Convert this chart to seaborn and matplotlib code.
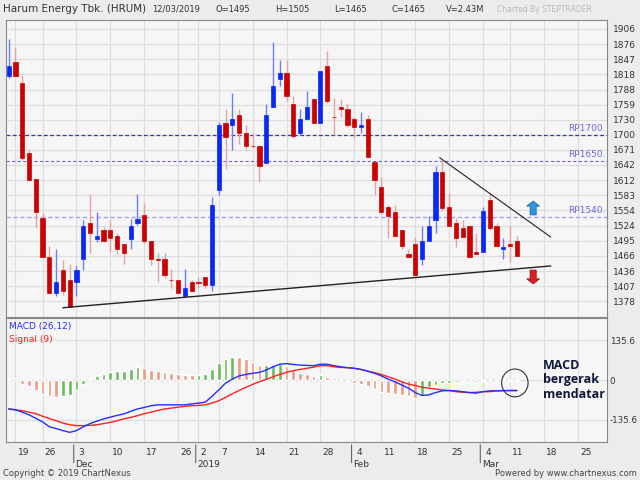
import numpy as np
import matplotlib
matplotlib.use('Agg')
import matplotlib.pyplot as plt
import matplotlib.patches as mpatches
import pandas as pd
import seaborn as sns

# OHLC, one row per trading day
opens = [1815, 1841, 1801, 1665, 1614, 1539, 1463, 1394, 1438, 1419, 1414, 1459, 1529, 1499, 1515, 1515,
         1504, 1489, 1499, 1529, 1545, 1495, 1459, 1459, 1419, 1419, 1388, 1414, 1414, 1424, 1409, 1594,
         1724, 1720, 1739, 1703, 1679, 1679, 1645, 1755, 1808, 1821, 1760, 1703, 1731, 1769, 1724, 1834,
         1735, 1755, 1750, 1731, 1715, 1731, 1648, 1600, 1560, 1550, 1515, 1469, 1489, 1459, 1495, 1535,
         1629, 1560, 1529, 1519, 1524, 1474, 1474, 1574, 1524, 1478, 1489, 1495]
highs = [1886, 1870, 1817, 1670, 1614, 1548, 1484, 1478, 1458, 1450, 1445, 1535, 1586, 1550, 1522, 1535,
         1509, 1489, 1538, 1586, 1569, 1495, 1471, 1471, 1440, 1419, 1440, 1419, 1424, 1424, 1580, 1726,
         1750, 1781, 1750, 1720, 1703, 1679, 1760, 1881, 1846, 1846, 1776, 1750, 1786, 1769, 1825, 1862,
         1771, 1769, 1760, 1735, 1745, 1739, 1648, 1619, 1564, 1564, 1515, 1478, 1503, 1524, 1543, 1639,
         1652, 1588, 1539, 1535, 1524, 1509, 1560, 1587, 1529, 1500, 1524, 1505]
lows = [1810, 1815, 1652, 1610, 1519, 1464, 1394, 1388, 1390, 1366, 1388, 1438, 1471, 1493, 1493, 1474,
        1470, 1450, 1478, 1526, 1489, 1448, 1414, 1422, 1403, 1394, 1388, 1398, 1403, 1403, 1398, 1584,
        1634, 1670, 1683, 1671, 1674, 1608, 1645, 1755, 1795, 1765, 1694, 1700, 1731, 1724, 1724, 1763,
        1700, 1734, 1715, 1694, 1703, 1655, 1584, 1547, 1500, 1504, 1478, 1463, 1424, 1448, 1500, 1509,
        1553, 1524, 1483, 1503, 1464, 1469, 1474, 1515, 1483, 1459, 1454, 1465]
closes = [1834, 1815, 1655, 1613, 1550, 1464, 1394, 1414, 1398, 1366, 1438, 1524, 1509, 1504, 1495, 1500,
          1478, 1471, 1524, 1538, 1495, 1459, 1458, 1428, 1418, 1394, 1403, 1398, 1413, 1409, 1564, 1720,
          1696, 1731, 1703, 1679, 1678, 1639, 1739, 1795, 1821, 1775, 1698, 1731, 1755, 1724, 1825, 1765,
          1734, 1750, 1720, 1715, 1720, 1657, 1613, 1550, 1543, 1504, 1484, 1464, 1428, 1495, 1524, 1629,
          1558, 1524, 1500, 1503, 1464, 1469, 1553, 1519, 1485, 1483, 1484, 1465]

macd = [-99, -102, -110, -119, -131, -143, -160, -166, -173, -179, -173, -160, -149, -141, -133, -127,
        -121, -116, -107, -99, -94, -88, -85, -85, -85, -85, -85, -82, -79, -76, -56, -34,
        -11, 3, 14, 19, 23, 26, 34, 45, 54, 56, 53, 51, 50, 49, 54, 54,
        49, 45, 42, 40, 36, 30, 23, 14, 3, -6, -17, -28, -43, -53, -51, -43,
        -37, -36, -37, -40, -43, -45, -40, -37, -37, -36, -36, -36]
signal = [-99, -102, -105, -110, -115, -124, -132, -139, -147, -153, -156, -156, -155, -153, -149, -145,
          -139, -133, -128, -122, -115, -110, -104, -99, -96, -93, -90, -88, -87, -85, -79, -71,
          -60, -47, -36, -25, -15, -6, 2, 11, 19, 26, 32, 36, 40, 44, 49, 49,
          45, 43, 42, 40, 36, 30, 25, 19, 11, 3, -6, -14, -19, -25, -28, -31,
          -34, -36, -40, -42, -43, -42, -40, -40, -37, -37, -36, -36]
hist = [5, 6, -13, -22, -34, -47, -56, -57, -53, -50, -34, -13, 3, 14, 21, 26,
        30, 31, 37, 43, 40, 34, 30, 28, 23, 19, 17, 16, 18, 19, 36, 59,
        73, 79, 77, 71, 62, 51, 52, 53, 56, 49, 34, 25, 21, 15, 17, 11,
        6, 0, -3, -9, -14, -19, -30, -42, -45, -47, -51, -54, -60, -56, -23, -17,
        -11, -9, -6, -5, -7, -8, -2, -1, -2, -3, -3, -4]

day_ticks = [1, 5, 10, 15, 20, 25, 28, 31, 36, 41, 46, 51, 55, 60, 65, 70, 74, 79, 84]
day_labels = ['19', '26', '3', '10', '17', '26', '2', '7', '14', '21', '28', '4', '11', '18', '25', '4', '11', '18', '25']
month_ticks = [10, 28, 51, 70]
month_labels = ['Dec', '2019', 'Feb', 'Mar']
price_ticks = [1906, 1876, 1847, 1818, 1788, 1759, 1730, 1700, 1671, 1642, 1612, 1583, 1554, 1524,
               1495, 1466, 1436, 1407, 1378]
rp_levels = [1700, 1650, 1540]
rp_labels = ['RP1700.', 'RP1650.', 'RP1540.']
support = ([8, 80], [1365, 1446])
resistance = ([63.6, 80], [1656, 1502])

df = pd.DataFrame({'open': opens, 'high': highs, 'low': lows, 'close': closes,
                   'macd': macd, 'signal': signal, 'hist': hist})
df['i'] = np.arange(len(df))

sns.set_style('white')
plt.rcParams['font.family'] = ['DejaVu Sans']

fig = plt.figure(figsize=(6.4, 4.8), dpi=100, facecolor='#ececec')
ax = fig.add_axes([6/640, 1 - 317/480, 601/640, 297/480], facecolor='#f6f6f6')
ax2 = fig.add_axes([6/640, 1 - 442/480, 601/640, 124/480], facecolor='#f6f6f6', sharex=ax)

xmin, xmax = -0.4, 88.3
for a in (ax, ax2):
    for t in day_ticks:
        a.axvline(t, color='#dedede', lw=0.9, zorder=0)
    for s in ['top', 'left', 'right', 'bottom']:
        a.spines[s].set_color('#888888')
    a.set_xlim(xmin, xmax)

# price panel
for p in price_ticks:
    ax.axhline(p, color='#dedede', lw=0.9, zorder=0)
up = df['close'] >= df['open']
for is_up, body_c, wick_c in [(True, '#0a28f5', '#6f7cff'), (False, '#cc0000', '#e6a3a3')]:
    d = df[up == is_up]
    ax.vlines(d['i'], d['low'], d['high'], color=wick_c, lw=1, zorder=2)
    bottom = np.minimum(d['open'], d['close'])
    height = np.maximum(np.abs(d['close'] - d['open']), 1.5)
    ax.bar(d['i'], height, bottom=bottom, width=0.62, color=body_c, edgecolor=body_c, lw=0.5, zorder=3)

rp_styles = [('#3333cc', 0.9), ('#6666dd', 0.8), ('#a0a0f0', 1.0)]
for lvl, lab, (c, lw) in zip(rp_levels, rp_labels, rp_styles):
    ax.axhline(lvl, color=c, ls=(0, (3, 2)), lw=lw, zorder=1)
    ax.text(88.1, lvl + 4, lab, color='#6a6ae0', fontsize=6.5, ha='right', va='bottom')

ax.plot(*support, color='#222222', lw=1, zorder=4)
ax.plot(*resistance, color='#222222', lw=0.8, zorder=4)
ax.add_patch(mpatches.FancyArrow(77.4, 1545, 0, 17, width=0.9, head_width=1.9, head_length=10,
                                 color='#2a9ae0', ec='#1a5a90', lw=0.5, zorder=5))
ax.add_patch(mpatches.FancyArrow(77.4, 1438, 0, -17, width=0.9, head_width=1.9, head_length=10,
                                 color='#e02020', ec='#801010', lw=0.5, zorder=5))

ax.set_ylim(1347, 1923)
ax.yaxis.tick_right()
ax.set_yticks(price_ticks)
ax.set_yticklabels([str(p) for p in price_ticks], fontsize=6.5, color='#333333')
ax.tick_params(axis='y', length=0, pad=4)
ax.tick_params(axis='x', bottom=False, labelbottom=False)

# MACD panel
for v in (-135.6, 0, 135.6):
    ax2.axhline(v, color='#dedede', lw=0.9, zorder=0)
hist_colors = ['#6dbb5c' if k == 0 or hist[k] > hist[k - 1] else '#eb9a86' for k in range(len(hist))]
ax2.bar(df['i'], df['hist'], width=0.55, color=hist_colors, zorder=2)
sns.lineplot(data=df, x='i', y='signal', ax=ax2, color='#ff2020', lw=1, zorder=3)
sns.lineplot(data=df, x='i', y='macd', ax=ax2, color='#2030ff', lw=1, zorder=4)
ax2.set_ylim(-212, 212)
ax2.yaxis.tick_right()
ax2.set_yticks([135.6, 0, -135.6])
ax2.set_yticklabels(['135.6', '0', '-135.6'], fontsize=6.3, color='#333333')
ax2.tick_params(axis='y', length=0, pad=2)
ax2.set_xlabel('')
ax2.set_ylabel('')
ax2.text(0.005, 0.97, 'MACD (26,12)', transform=ax2.transAxes, color='#2030ff', fontsize=6.5, va='top')
ax2.text(0.005, 0.86, 'Signal (9)', transform=ax2.transAxes, color='#ff2020', fontsize=6.5, va='top')
ax2.add_patch(mpatches.Ellipse((74.7, -10), 3.9, 95, fill=False, ec='#333333', lw=0.8, zorder=5))
ax2.text(78.8, 0, 'MACD\nbergerak\nmendatar', fontsize=9, fontweight='bold', color='#10183a',
         family=['Open Sans', 'DejaVu Sans'], va='center', ha='left', linespacing=1.15)

ax2.set_xticks(day_ticks)
ax2.set_xticklabels([])
ax2.tick_params(axis='x', length=4, color='#666666', direction='out')
for t, lab in zip(day_ticks, day_labels):
    ax2.annotate(lab, (t, 0), xycoords=('data', 'axes fraction'), xytext=(1.5, -4),
                 textcoords='offset points', fontsize=6.5, color='#333333', ha='left', va='top')
for t, lab in zip(month_ticks, month_labels):
    ax2.annotate('', (t - 0.4, 0), xycoords=('data', 'axes fraction'), xytext=(t - 0.4, -0.19),
                 textcoords=('data', 'axes fraction'),
                 arrowprops=dict(arrowstyle='-', color='#666666', lw=0.8))
    ax2.annotate(lab, (t - 0.4, 0), xycoords=('data', 'axes fraction'), xytext=(1, -13),
                 textcoords='offset points', fontsize=6.5, color='#333333', ha='left', va='top')

# header and footer
hdr = [(3, 'Harum Energy Tbk. (HRUM)', 7.5), (152, '12/03/2019', 6), (216, 'O=1495', 6),
       (275, 'H=1505', 6), (334, 'L=1465', 6), (392, 'C=1465', 6), (446, 'V=2.43M', 6)]
for x, s, fs in hdr:
    fig.text(x / 640, 1 - 9 / 480, s, fontsize=fs, color='#333333', va='center')
fig.text(497 / 640, 1 - 9 / 480, 'Charted By STEPTRADER', fontsize=5.5, color='#b8b8b8', va='center')
fig.text(3 / 640, 1 - 474 / 480, 'Copyright \u00a9 2019 ChartNexus', fontsize=6, color='#444444', va='center')
fig.text(637 / 640, 1 - 474 / 480, 'Powered by www.chartnexus.com', fontsize=6, color='#444444',
         va='center', ha='right')

fig.savefig('out.png', dpi=100, facecolor=fig.get_facecolor())
